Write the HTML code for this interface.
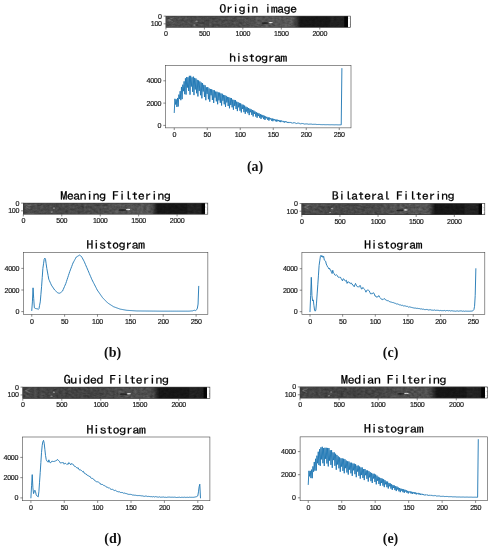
<!DOCTYPE html>
<html><head><meta charset="utf-8"><title>Filtering histograms</title>
<style>html,body{margin:0;padding:0;background:#fff}svg{display:block}.t{font-family:IPAGothic,"Liberation Mono",monospace;font-size:14.2px;letter-spacing:-.7px;fill:#000;text-anchor:middle;stroke:#000;stroke-width:.22px}.k{font-family:"Liberation Sans",sans-serif;font-size:7.1px;letter-spacing:-.3px;fill:#1c1c1c;stroke:#1c1c1c;stroke-width:.2px}.kx{text-anchor:middle}.ky{text-anchor:end}.c{font-family:"Liberation Serif",serif;font-weight:bold;font-size:14px;fill:#111;text-anchor:middle}.ax{fill:none;stroke:#484848;stroke-width:.6px}.tk{stroke:#3a3a3a;stroke-width:.6px}.ln{fill:none;stroke:#1f77b4;stroke-width:.92px;stroke-linejoin:round;stroke-linecap:round}</style></head><body>
<svg width="492" height="550" viewBox="0 0 492 550">
<defs><filter id="nz" x="0" y="0" width="100%" height="100%" color-interpolation-filters="sRGB"><feTurbulence type="fractalNoise" baseFrequency="0.32 0.45" numOctaves="2" seed="3" result="n"/><feColorMatrix in="n" type="matrix" values=".6 .4 0 0 0  .6 .4 0 0 0  .6 .4 0 0 0  0 0 0 0 1" result="g"/><feComposite in="SourceGraphic" in2="g" operator="arithmetic" k1="0.9" k2="0.55" k3="0" k4="0"/></filter></defs>
<g id="panel-a">
<text class="t" transform="translate(257.8 13) scale(1.006 0.825)">Origin image</text>
<defs><linearGradient id="sga" x1="0" x2="1" y1="0" y2="0"><stop offset="0" stop-color="#424242"/><stop offset="0.02" stop-color="#4e4e4e"/><stop offset="0.2" stop-color="#484848"/><stop offset="0.42" stop-color="#4a4a4a"/><stop offset="0.5" stop-color="#535353"/><stop offset="0.68" stop-color="#585858"/><stop offset="0.7" stop-color="#4a4a4a"/><stop offset="0.715" stop-color="#2a2a2a"/><stop offset="0.73" stop-color="#161616"/><stop offset="0.886" stop-color="#171717"/><stop offset="0.892" stop-color="#212121"/><stop offset="0.963" stop-color="#212121"/><stop offset="0.969" stop-color="#050505"/><stop offset="0.985" stop-color="#050505"/><stop offset="0.987" stop-color="#ffffff"/><stop offset="1" stop-color="#ffffff"/></linearGradient></defs>
<g filter="url(#nz)"><rect x="165.9" y="16.1" width="184.6" height="11.2" fill="url(#sga)"/>
<ellipse cx="265.123" cy="23.044" rx="3.6" ry="0.9" fill="#262626"/>
<ellipse cx="270.661" cy="22.596" rx="2.2" ry="0.7" fill="#d0d0d0"/>
<ellipse cx="196.667" cy="21.14" rx="1.2" ry="0.7" fill="#9a9a9a"/>
<ellipse cx="194.359" cy="25.06" rx="1.2" ry="0.7" fill="#8a8a8a"/>
<polyline points="173.4,17.7 168.4,19.7 172.9,21.7" fill="none" stroke="#7c7c7c" stroke-width=".6"/>
</g>
<rect class="ax" x="165.9" y="16.1" width="184.6" height="11.2"/>
<line class="tk" x1="165.94" x2="165.94" y1="27.3" y2="29.5"/>
<text class="k kx" x="165.94" y="36.2">0</text>
<line class="tk" x1="204.398" x2="204.398" y1="27.3" y2="29.5"/>
<text class="k kx" x="204.398" y="36.2">500</text>
<line class="tk" x1="242.857" x2="242.857" y1="27.3" y2="29.5"/>
<text class="k kx" x="242.857" y="36.2">1000</text>
<line class="tk" x1="281.315" x2="281.315" y1="27.3" y2="29.5"/>
<text class="k kx" x="281.315" y="36.2">1500</text>
<line class="tk" x1="319.773" x2="319.773" y1="27.3" y2="29.5"/>
<text class="k kx" x="319.773" y="36.2">2000</text>
<line class="tk" x1="163.7" x2="165.9" y1="16.14" y2="16.14"/>
<text class="k ky" x="161.7" y="18.69">0</text>
<line class="tk" x1="163.7" x2="165.9" y1="23.832" y2="23.832"/>
<text class="k ky" x="161.7" y="26.382">100</text>
<text class="t" transform="translate(257.85 62.1) scale(1.006 0.825)">histogram</text>
<rect class="ax" x="165.5" y="65.6" width="185.5" height="62.25"/>
<line class="tk" x1="174.25" x2="174.25" y1="127.85" y2="130.05"/>
<text class="k kx" x="174.25" y="137.15">0</text>
<line class="tk" x1="207.25" x2="207.25" y1="127.85" y2="130.05"/>
<text class="k kx" x="207.25" y="137.15">50</text>
<line class="tk" x1="240.25" x2="240.25" y1="127.85" y2="130.05"/>
<text class="k kx" x="240.25" y="137.15">100</text>
<line class="tk" x1="273.25" x2="273.25" y1="127.85" y2="130.05"/>
<text class="k kx" x="273.25" y="137.15">150</text>
<line class="tk" x1="306.25" x2="306.25" y1="127.85" y2="130.05"/>
<text class="k kx" x="306.25" y="137.15">200</text>
<line class="tk" x1="339.25" x2="339.25" y1="127.85" y2="130.05"/>
<text class="k kx" x="339.25" y="137.15">250</text>
<line class="tk" x1="163.3" x2="165.5" y1="125.4" y2="125.4"/>
<text class="k ky" x="161.1" y="127.95">0</text>
<line class="tk" x1="163.3" x2="165.5" y1="103.1" y2="103.1"/>
<text class="k ky" x="161.1" y="105.65">2000</text>
<line class="tk" x1="163.3" x2="165.5" y1="80.8" y2="80.8"/>
<text class="k ky" x="161.1" y="83.35">4000</text>
<path class="ln" d="M174.25 112.578L174.907 98.801L175.565 104.465L176.222 99.35L176.88 106.97L177.537 97.967L178.194 106.49L178.852 94.631L179.509 98.859L180.167 91.179L180.824 100.203L181.482 86.966L182.139 99.119L182.796 84.682L183.454 91.162L184.111 81.369L184.769 94.177L185.426 78.34L186.083 94.561L186.741 76.989L187.398 87.561L188.056 77.363L188.713 91L189.37 75.834L190.028 94.682L190.685 75.825L191.343 86.515L192 77.353L192.658 91.87L193.315 76.617L193.972 95.097L194.63 77.892L195.287 89.429L195.945 78.516L196.602 93.271L197.259 79.874L197.917 96.45L198.574 80.467L199.232 90.871L199.889 81.435L200.546 95.198L201.204 82.523L201.861 98.33L202.519 83.141L203.176 91.52L203.834 84.854L204.491 97.008L205.148 85.347L205.806 100.209L206.463 87.367L207.121 93.881L207.778 87.053L208.435 99.23L209.093 88.399L209.75 101.686L210.408 88.982L211.065 95.237L211.722 89.229L212.38 99.989L213.037 90.124L213.695 102.961L214.352 90.29L215.01 97.597L215.667 91.56L216.324 101.348L216.982 91.723L217.639 104.236L218.297 92.415L218.954 100.346L219.611 92.629L220.269 102.781L220.926 93.419L221.584 105.512L222.241 93.759L222.898 100.71L223.556 94.925L224.213 104.311L224.871 95.216L225.528 106.864L226.186 95.92L226.843 102.417L227.5 96.903L228.158 105.982L228.815 97.15L229.473 108.293L230.13 97.883L230.787 104.997L231.445 98.088L232.102 107.317L232.76 99.629L233.417 109.721L234.074 99.892L234.732 105.918L235.389 100.136L236.047 109.013L236.704 101.595L237.362 111.103L238.019 102.117L238.676 107.343L239.334 102.907L239.991 110.711L240.649 103.344L241.306 112.438L241.963 104.437L242.621 109.014L243.278 104.79L243.936 112.147L244.593 105.601L245.25 113.775L245.908 106.636L246.565 111.56L247.223 107.249L247.88 113.245L248.538 108.053L249.195 115.112L249.852 108.695L250.51 112.226L251.167 109.299L251.825 114.91L252.482 109.99L253.139 116.449L253.797 110.534L254.454 113.947L255.112 111.557L255.769 116.584L256.426 112.268L257.084 117.755L257.741 112.861L258.399 116.061L259.056 113.402L259.714 117.711L260.371 114.127L261.028 118.902L261.686 114.723L262.343 117.404L263.001 115.097L263.658 119.088L264.315 115.765L264.973 119.963L265.63 116.365L266.288 118.327L266.945 116.884L267.602 119.731L268.26 117.335L268.917 120.596L269.575 117.623L270.232 119.34L270.89 118.188L271.547 120.679L272.204 118.482L272.862 121.23L273.519 118.851L274.177 120.255L274.834 119.176L275.491 121.248L276.149 119.523L276.806 121.681L277.464 119.741L278.121 121.129L278.778 119.982L279.436 121.677L280.093 120.258L280.751 122.133L281.408 120.548L282.066 121.526L282.723 120.847L283.38 122.217L284.038 121.121L284.695 122.585L285.353 121.34L286.01 122.225L286.667 121.658L287.325 122.736L287.982 121.9L288.64 123.036L289.297 122.242L289.954 122.761L290.612 122.317L291.269 123.09L291.927 122.495L292.584 123.32L293.242 122.569L293.899 123.142L294.556 122.711L295.214 123.358L295.871 122.845L296.529 123.57L297.186 123.009L297.843 123.372L298.501 123.132L299.158 123.661L299.816 123.284L300.473 123.82L301.13 123.405L301.788 123.704L302.445 123.513L303.103 123.915L303.76 123.652L304.418 124.071L305.075 123.789L305.732 124.03L306.39 123.886L307.047 124.163L307.705 123.938L308.362 124.245L309.019 124.014L309.677 124.158L310.334 124.058L310.992 124.288L311.649 124.119L312.306 124.382L312.964 124.192L313.621 124.322L314.279 124.241L314.936 124.444L315.594 124.294L316.251 124.518L316.908 124.369L317.566 124.502L318.223 124.428L318.881 124.577L319.538 124.484L320.195 124.655L320.853 124.539L321.51 124.635L322.168 124.608L322.825 124.708L323.482 124.62L324.14 124.742L324.797 124.635L325.455 124.709L326.112 124.65L326.77 124.748L327.427 124.669L328.084 124.78L328.742 124.684L329.399 124.756L330.057 124.705L330.714 124.791L331.371 124.72L332.029 124.817L332.686 124.735L333.344 124.786L334.001 124.756L334.658 124.833L335.316 124.768L335.973 124.855L336.631 124.786L337.288 124.829L337.946 124.805L338.603 124.87L339.26 124.818L339.918 124.893L340.575 124.838L341.233 124.875L341.89 68.535"/>
<text class="c" x="255.05" y="170.8">(a)</text>
</g>
<g id="panel-b">
<text class="t" transform="translate(115.15 200) scale(1.012 0.83)">Meaning Filtering</text>
<defs><linearGradient id="sgb" x1="0" x2="1" y1="0" y2="0"><stop offset="0" stop-color="#414141"/><stop offset="0.02" stop-color="#4c4c4c"/><stop offset="0.2" stop-color="#474747"/><stop offset="0.42" stop-color="#494949"/><stop offset="0.5" stop-color="#515151"/><stop offset="0.68" stop-color="#565656"/><stop offset="0.7" stop-color="#494949"/><stop offset="0.715" stop-color="#2a2a2a"/><stop offset="0.73" stop-color="#161616"/><stop offset="0.886" stop-color="#171717"/><stop offset="0.892" stop-color="#212121"/><stop offset="0.963" stop-color="#212121"/><stop offset="0.969" stop-color="#050505"/><stop offset="0.985" stop-color="#050505"/><stop offset="0.987" stop-color="#ffffff"/><stop offset="1" stop-color="#ffffff"/></linearGradient></defs>
<g filter="url(#nz)"><rect x="23.3" y="203.1" width="184.5" height="11.1" fill="url(#sgb)"/>
<ellipse cx="122.469" cy="209.982" rx="3.6" ry="0.9" fill="#262626"/>
<ellipse cx="128.004" cy="209.538" rx="2.2" ry="0.7" fill="#d0d0d0"/>
<ellipse cx="54.05" cy="208.095" rx="1.2" ry="0.7" fill="#9a9a9a"/>
<ellipse cx="51.744" cy="211.98" rx="1.2" ry="0.7" fill="#8a8a8a"/>
<polyline points="30.8,204.7 25.8,206.7 30.3,208.7" fill="none" stroke="#7c7c7c" stroke-width=".6"/>
</g>
<rect class="ax" x="23.3" y="203.1" width="184.5" height="11.1"/>
<line class="tk" x1="23.34" x2="23.34" y1="214.2" y2="216.4"/>
<text class="k kx" x="23.34" y="223.1">0</text>
<line class="tk" x1="61.778" x2="61.778" y1="214.2" y2="216.4"/>
<text class="k kx" x="61.778" y="223.1">500</text>
<line class="tk" x1="100.215" x2="100.215" y1="214.2" y2="216.4"/>
<text class="k kx" x="100.215" y="223.1">1000</text>
<line class="tk" x1="138.653" x2="138.653" y1="214.2" y2="216.4"/>
<text class="k kx" x="138.653" y="223.1">1500</text>
<line class="tk" x1="177.09" x2="177.09" y1="214.2" y2="216.4"/>
<text class="k kx" x="177.09" y="223.1">2000</text>
<line class="tk" x1="21.1" x2="23.3" y1="203.14" y2="203.14"/>
<text class="k ky" x="19.1" y="205.69">0</text>
<line class="tk" x1="21.1" x2="23.3" y1="210.827" y2="210.827"/>
<text class="k ky" x="19.1" y="213.377">100</text>
<text class="t" transform="translate(115.275 248.9) scale(1.012 0.83)">Histogram</text>
<rect class="ax" x="23.5" y="252.4" width="184.35" height="62.1"/>
<line class="tk" x1="31.75" x2="31.75" y1="314.5" y2="316.7"/>
<text class="k kx" x="31.75" y="323.8">0</text>
<line class="tk" x1="64.62" x2="64.62" y1="314.5" y2="316.7"/>
<text class="k kx" x="64.62" y="323.8">50</text>
<line class="tk" x1="97.49" x2="97.49" y1="314.5" y2="316.7"/>
<text class="k kx" x="97.49" y="323.8">100</text>
<line class="tk" x1="130.36" x2="130.36" y1="314.5" y2="316.7"/>
<text class="k kx" x="130.36" y="323.8">150</text>
<line class="tk" x1="163.23" x2="163.23" y1="314.5" y2="316.7"/>
<text class="k kx" x="163.23" y="323.8">200</text>
<line class="tk" x1="196.1" x2="196.1" y1="314.5" y2="316.7"/>
<text class="k kx" x="196.1" y="323.8">250</text>
<line class="tk" x1="21.3" x2="23.5" y1="311.6" y2="311.6"/>
<text class="k ky" x="19.1" y="314.15">0</text>
<line class="tk" x1="21.3" x2="23.5" y1="290" y2="290"/>
<text class="k ky" x="19.1" y="292.55">2000</text>
<line class="tk" x1="21.3" x2="23.5" y1="268.4" y2="268.4"/>
<text class="k ky" x="19.1" y="270.95">4000</text>
<path class="ln" d="M31.75 310.52L32.405 301.88L33.06 287.84L33.714 298.64L34.369 307.82L35.024 308.198L35.679 308.576L36.334 308.684L36.989 308.792L37.643 308.9L38.298 309.44L38.953 308.792L39.608 305.336L40.263 301.88L40.918 294.32L41.572 286.76L42.227 277.58L42.882 268.4L43.537 263.81L44.192 259.22L44.846 258.14L45.501 259.22L46.156 263.81L46.811 268.4L47.466 272L48.121 275.6L48.775 279.2L49.43 280.685L50.085 282.17L50.74 283.655L51.395 285.14L52.049 286.112L52.704 287.084L53.359 288.056L54.014 289.028L54.669 290L55.324 290.605L55.978 291.21L56.633 291.814L57.288 292.419L57.943 293.024L58.598 293.096L59.253 293.168L59.907 293.24L60.562 292.7L61.217 292.16L61.872 291.62L62.527 291.08L63.181 289.568L63.836 288.056L64.491 286.544L65.146 285.032L65.801 283.52L66.456 281.54L67.11 279.56L67.765 277.58L68.42 275.6L69.075 273.62L69.73 271.64L70.384 269.912L71.039 268.184L71.694 266.456L72.349 264.728L73.004 263L73.659 261.812L74.313 260.624L74.968 259.436L75.623 258.248L76.278 257.06L76.933 256.671L77.588 256.282L78.242 255.894L78.897 255.505L79.552 255.116L80.207 255.584L80.862 256.052L81.516 256.52L82.171 257.735L82.826 258.95L83.481 260.165L84.136 261.38L84.791 262.91L85.445 264.44L86.1 265.97L86.755 267.5L87.41 269.03L88.065 270.56L88.72 272.09L89.374 273.62L90.029 275.15L90.684 276.68L91.339 278.21L91.994 279.74L92.648 281.023L93.303 282.305L93.958 283.588L94.613 284.87L95.268 286.153L95.923 287.435L96.577 288.718L97.232 290L97.887 290.945L98.542 291.89L99.197 292.835L99.851 293.78L100.506 294.725L101.161 295.67L101.816 296.615L102.471 297.56L103.126 298.235L103.78 298.91L104.435 299.585L105.09 300.26L105.745 300.935L106.4 301.61L107.055 302.285L107.709 302.96L108.364 303.38L109.019 303.8L109.674 304.22L110.329 304.64L110.983 305.06L111.638 305.48L112.293 305.9L112.948 306.32L113.603 306.74L114.258 306.978L114.912 307.215L115.567 307.453L116.222 307.69L116.877 307.928L117.532 308.166L118.186 308.403L118.841 308.641L119.496 308.878L120.151 309.116L120.806 309.235L121.461 309.354L122.115 309.472L122.77 309.591L123.425 309.71L124.08 309.829L124.735 309.948L125.39 310.066L126.044 310.185L126.699 310.304L127.354 310.347L128.009 310.39L128.664 310.434L129.318 310.477L129.973 310.52L130.628 310.563L131.283 310.606L131.938 310.65L132.593 310.693L133.247 310.736L133.902 310.779L134.557 310.822L135.212 310.866L135.867 310.909L136.522 310.952L137.176 310.957L137.831 310.963L138.486 310.968L139.141 310.974L139.796 310.979L140.45 310.984L141.105 310.99L141.76 310.995L142.415 311.001L143.07 311.006L143.725 311.011L144.379 311.017L145.034 311.022L145.689 311.028L146.344 311.033L146.999 311.038L147.653 311.044L148.308 311.049L148.963 311.055L149.618 311.06L150.273 311.065L150.928 311.071L151.582 311.076L152.237 311.082L152.892 311.087L153.547 311.092L154.202 311.098L154.857 311.103L155.511 311.109L156.166 311.114L156.821 311.119L157.476 311.125L158.131 311.13L158.785 311.136L159.44 311.141L160.095 311.146L160.75 311.152L161.405 311.157L162.06 311.163L162.714 311.168L163.369 311.168L164.024 311.168L164.679 311.168L165.334 311.168L165.989 311.168L166.643 311.168L167.298 311.168L167.953 311.168L168.608 311.168L169.263 311.168L169.917 311.168L170.572 311.168L171.227 311.168L171.882 311.168L172.537 311.168L173.192 311.168L173.846 311.168L174.501 311.168L175.156 311.168L175.811 311.168L176.466 311.168L177.12 311.168L177.775 311.168L178.43 311.168L179.085 311.168L179.74 311.168L180.395 311.168L181.049 311.168L181.704 311.168L182.359 311.168L183.014 311.168L183.669 311.168L184.324 311.168L184.978 311.168L185.633 311.168L186.288 311.168L186.943 311.168L187.598 311.168L188.252 311.168L188.907 311.168L189.562 311.114L190.217 311.06L190.872 311.006L191.527 310.952L192.181 310.898L192.836 310.844L193.491 310.52L194.146 310.196L194.801 310.412L195.455 310.628L196.11 310.142L196.765 309.656L197.42 308.036L198.075 304.04L198.73 286.328"/>
<text class="c" x="112.55" y="356.9">(b)</text>
</g>
<g id="panel-c">
<text class="t" transform="translate(392.875 200.4) scale(1.006 0.825)">Bilateral Filtering</text>
<defs><linearGradient id="sgc" x1="0" x2="1" y1="0" y2="0"><stop offset="0" stop-color="#414141"/><stop offset="0.02" stop-color="#4c4c4c"/><stop offset="0.2" stop-color="#474747"/><stop offset="0.42" stop-color="#494949"/><stop offset="0.5" stop-color="#515151"/><stop offset="0.68" stop-color="#565656"/><stop offset="0.7" stop-color="#494949"/><stop offset="0.715" stop-color="#2a2a2a"/><stop offset="0.73" stop-color="#161616"/><stop offset="0.886" stop-color="#171717"/><stop offset="0.892" stop-color="#212121"/><stop offset="0.963" stop-color="#212121"/><stop offset="0.969" stop-color="#050505"/><stop offset="0.985" stop-color="#050505"/><stop offset="0.987" stop-color="#ffffff"/><stop offset="1" stop-color="#ffffff"/></linearGradient></defs>
<g filter="url(#nz)"><rect x="301.75" y="203.5" width="183.05" height="11.2" fill="url(#sgc)"/>
<ellipse cx="400.139" cy="210.444" rx="3.6" ry="0.9" fill="#262626"/>
<ellipse cx="405.631" cy="209.996" rx="2.2" ry="0.7" fill="#d0d0d0"/>
<ellipse cx="332.258" cy="208.54" rx="1.2" ry="0.7" fill="#9a9a9a"/>
<ellipse cx="329.97" cy="212.46" rx="1.2" ry="0.7" fill="#8a8a8a"/>
<polyline points="309.25,205.1 304.25,207.1 308.75,209.1" fill="none" stroke="#7c7c7c" stroke-width=".6"/>
</g>
<rect class="ax" x="301.75" y="203.5" width="183.05" height="11.2"/>
<line class="tk" x1="301.79" x2="301.79" y1="214.7" y2="216.9"/>
<text class="k kx" x="301.79" y="223.6">0</text>
<line class="tk" x1="339.925" x2="339.925" y1="214.7" y2="216.9"/>
<text class="k kx" x="339.925" y="223.6">500</text>
<line class="tk" x1="378.061" x2="378.061" y1="214.7" y2="216.9"/>
<text class="k kx" x="378.061" y="223.6">1000</text>
<line class="tk" x1="416.196" x2="416.196" y1="214.7" y2="216.9"/>
<text class="k kx" x="416.196" y="223.6">1500</text>
<line class="tk" x1="454.332" x2="454.332" y1="214.7" y2="216.9"/>
<text class="k kx" x="454.332" y="223.6">2000</text>
<line class="tk" x1="299.55" x2="301.75" y1="203.54" y2="203.54"/>
<text class="k ky" x="297.55" y="206.09">0</text>
<line class="tk" x1="299.55" x2="301.75" y1="211.167" y2="211.167"/>
<text class="k ky" x="297.55" y="213.717">100</text>
<text class="t" transform="translate(392.95 248.9) scale(1.006 0.825)">Histogram</text>
<rect class="ax" x="301.9" y="252.4" width="182.9" height="62.1"/>
<line class="tk" x1="310" x2="310" y1="314.5" y2="316.7"/>
<text class="k kx" x="310" y="323.8">0</text>
<line class="tk" x1="342.65" x2="342.65" y1="314.5" y2="316.7"/>
<text class="k kx" x="342.65" y="323.8">50</text>
<line class="tk" x1="375.3" x2="375.3" y1="314.5" y2="316.7"/>
<text class="k kx" x="375.3" y="323.8">100</text>
<line class="tk" x1="407.95" x2="407.95" y1="314.5" y2="316.7"/>
<text class="k kx" x="407.95" y="323.8">150</text>
<line class="tk" x1="440.6" x2="440.6" y1="314.5" y2="316.7"/>
<text class="k kx" x="440.6" y="323.8">200</text>
<line class="tk" x1="473.25" x2="473.25" y1="314.5" y2="316.7"/>
<text class="k kx" x="473.25" y="323.8">250</text>
<line class="tk" x1="299.7" x2="301.9" y1="311.7" y2="311.7"/>
<text class="k ky" x="297.5" y="314.25">0</text>
<line class="tk" x1="299.7" x2="301.9" y1="290.2" y2="290.2"/>
<text class="k ky" x="297.5" y="292.75">2000</text>
<line class="tk" x1="299.7" x2="301.9" y1="268.7" y2="268.7"/>
<text class="k ky" x="297.5" y="271.25">4000</text>
<path class="ln" d="M310 311.7L310.65 295.575L311.301 277.3L311.951 295.575L312.602 300.95L313.252 299.875L313.903 305.25L314.553 310.087L315.204 311.162L315.854 310.087L316.504 303.1L317.155 293.962L317.805 284.825L318.456 275.15L319.106 265.475L319.757 260.906L320.407 256.337L321.057 255.262L321.708 256.875L322.358 255.8L323.009 257.412L323.659 256.337L324.31 260.1L324.96 260.637L325.611 261.175L326.261 264.008L326.911 265.364L327.562 266.87L328.212 267.374L328.863 268.943L329.513 268.147L330.164 270.114L330.814 270.085L331.464 272.459L332.115 273.577L332.765 270.275L333.416 272.796L334.066 273.361L334.717 274.931L335.367 275.402L336.018 274.817L336.668 274.87L337.318 275.479L337.969 276.985L338.619 277.366L339.27 276.961L339.92 277.635L340.571 277.333L341.221 278.739L341.872 279.824L342.522 280.858L343.172 278.762L343.823 278.964L344.473 279.853L345.124 280.924L345.774 280.947L346.425 280.301L347.075 283.392L347.725 281.989L348.376 281.913L349.026 282.028L349.677 283.111L350.327 283.638L350.978 282.778L351.628 283.962L352.279 284.062L352.929 285.466L353.579 285.699L354.23 286.749L354.88 284.813L355.531 283.408L356.181 285.069L356.832 286.304L357.482 286.665L358.133 286.534L358.783 287.236L359.433 286.039L360.084 285.333L360.734 286.767L361.385 288.877L362.035 289.083L362.686 287.511L363.336 287.904L363.986 288.54L364.637 289.564L365.287 290.444L365.938 292.195L366.588 290.555L367.239 290.097L367.889 290.234L368.54 290.283L369.19 290.797L369.84 292.262L370.491 293.764L371.141 293.23L371.792 294.072L372.442 293.598L373.093 292.618L373.743 293.088L374.393 294.051L375.044 296.102L375.694 295.983L376.345 297.154L376.995 296.951L377.646 297.015L378.296 296.046L378.947 295.569L379.597 297.182L380.247 297.747L380.898 298.726L381.548 299.227L382.199 298.969L382.849 299.8L383.5 299.212L384.15 298.572L384.801 298.85L385.451 299.782L386.101 300.368L386.752 300.068L387.402 300.854L388.053 300.531L388.703 300.861L389.354 301.596L390.004 301.773L390.654 301.972L391.305 302.117L391.955 302.338L392.606 302.549L393.256 302.678L393.907 302.615L394.557 303.171L395.208 303.432L395.858 303.401L396.508 303.982L397.159 304.13L397.809 303.808L398.46 304.331L399.11 304.483L399.761 305.055L400.411 304.926L401.061 304.977L401.712 305.554L402.362 305.296L403.013 305.458L403.663 306.03L404.314 305.807L404.964 306.054L405.615 306.046L406.265 306.403L406.915 306.302L407.566 306.419L408.216 307.025L408.867 307.133L409.517 306.871L410.168 306.826L410.818 307.413L411.469 307.42L412.119 307.472L412.769 307.775L413.42 307.884L414.07 308.05L414.721 308.104L415.371 308.058L416.022 308.321L416.672 308.364L417.322 308.223L417.973 308.742L418.623 308.519L419.274 308.514L419.924 308.843L420.575 308.98L421.225 308.744L421.876 309.146L422.526 309.262L423.176 309.214L423.827 309.161L424.477 309.57L425.128 309.54L425.778 309.622L426.429 309.448L427.079 309.743L427.729 309.568L428.38 309.962L429.03 309.916L429.681 309.796L430.331 309.716L430.982 309.978L431.632 310.133L432.283 310.225L432.933 310.059L433.583 310.269L434.234 310.001L434.884 310.027L435.535 310.392L436.185 310.385L436.836 310.165L437.486 310.287L438.137 310.247L438.787 310.512L439.437 310.657L440.088 310.618L440.738 310.397L441.389 310.671L442.039 310.656L442.69 310.643L443.34 310.663L443.99 310.69L444.641 310.468L445.291 310.853L445.942 310.946L446.592 310.523L447.243 310.574L447.893 310.546L448.544 310.828L449.194 310.607L449.844 310.64L450.495 310.991L451.145 310.768L451.796 310.748L452.446 310.85L453.097 310.939L453.747 311.067L454.398 311.064L455.048 311.138L455.698 311.232L456.349 311.014L456.999 311.161L457.65 310.929L458.3 311.288L458.951 310.903L459.601 311.007L460.251 310.91L460.902 310.93L461.552 310.937L462.203 311.092L462.853 311.357L463.504 311.032L464.154 311.301L464.805 311.251L465.455 311.094L466.105 311.176L466.756 311.184L467.406 311.192L468.057 311.2L468.707 311.208L469.358 311.216L470.008 311.184L470.658 311.152L471.309 311.12L471.959 311.087L472.61 311.055L473.26 310.303L473.911 309.55L474.561 306.325L475.212 295.575L475.862 268.7"/>
<text class="c" x="390.6" y="356.9">(c)</text>
</g>
<g id="panel-d">
<text class="t" transform="translate(115.925 384) scale(1.026 0.841)">Guided Filtering</text>
<defs><linearGradient id="sgd" x1="0" x2="1" y1="0" y2="0"><stop offset="0" stop-color="#3b3b3b"/><stop offset="0.02" stop-color="#464646"/><stop offset="0.2" stop-color="#414141"/><stop offset="0.42" stop-color="#434343"/><stop offset="0.5" stop-color="#4b4b4b"/><stop offset="0.68" stop-color="#4f4f4f"/><stop offset="0.7" stop-color="#434343"/><stop offset="0.715" stop-color="#2a2a2a"/><stop offset="0.73" stop-color="#161616"/><stop offset="0.886" stop-color="#171717"/><stop offset="0.892" stop-color="#212121"/><stop offset="0.963" stop-color="#212121"/><stop offset="0.969" stop-color="#050505"/><stop offset="0.985" stop-color="#050505"/><stop offset="0.987" stop-color="#ffffff"/><stop offset="1" stop-color="#ffffff"/></linearGradient></defs>
<g filter="url(#nz)"><rect x="22.75" y="387.1" width="187.15" height="11.4" fill="url(#sgd)"/>
<ellipse cx="123.343" cy="394.168" rx="3.6" ry="0.9" fill="#262626"/>
<ellipse cx="128.958" cy="393.712" rx="2.2" ry="0.7" fill="#d0d0d0"/>
<ellipse cx="53.942" cy="392.23" rx="1.2" ry="0.7" fill="#9a9a9a"/>
<ellipse cx="51.602" cy="396.22" rx="1.2" ry="0.7" fill="#8a8a8a"/>
<polyline points="30.25,388.7 25.25,390.7 29.75,392.7" fill="none" stroke="#7c7c7c" stroke-width=".6"/>
</g>
<rect class="ax" x="22.75" y="387.1" width="187.15" height="11.4"/>
<line class="tk" x1="22.79" x2="22.79" y1="398.5" y2="400.7"/>
<text class="k kx" x="22.79" y="407.4">0</text>
<line class="tk" x1="61.78" x2="61.78" y1="398.5" y2="400.7"/>
<text class="k kx" x="61.78" y="407.4">500</text>
<line class="tk" x1="100.769" x2="100.769" y1="398.5" y2="400.7"/>
<text class="k kx" x="100.769" y="407.4">1000</text>
<line class="tk" x1="139.759" x2="139.759" y1="398.5" y2="400.7"/>
<text class="k kx" x="139.759" y="407.4">1500</text>
<line class="tk" x1="178.748" x2="178.748" y1="398.5" y2="400.7"/>
<text class="k kx" x="178.748" y="407.4">2000</text>
<line class="tk" x1="20.55" x2="22.75" y1="387.14" y2="387.14"/>
<text class="k ky" x="18.55" y="389.69">0</text>
<line class="tk" x1="20.55" x2="22.75" y1="394.938" y2="394.938"/>
<text class="k ky" x="18.55" y="397.488">100</text>
<text class="t" transform="translate(115.8 433.5) scale(1.026 0.841)">Histogram</text>
<rect class="ax" x="22.5" y="437" width="187.4" height="63.7"/>
<line class="tk" x1="30.9" x2="30.9" y1="500.7" y2="502.9"/>
<text class="k kx" x="30.9" y="510">0</text>
<line class="tk" x1="64.28" x2="64.28" y1="500.7" y2="502.9"/>
<text class="k kx" x="64.28" y="510">50</text>
<line class="tk" x1="97.66" x2="97.66" y1="500.7" y2="502.9"/>
<text class="k kx" x="97.66" y="510">100</text>
<line class="tk" x1="131.04" x2="131.04" y1="500.7" y2="502.9"/>
<text class="k kx" x="131.04" y="510">150</text>
<line class="tk" x1="164.42" x2="164.42" y1="500.7" y2="502.9"/>
<text class="k kx" x="164.42" y="510">200</text>
<line class="tk" x1="197.8" x2="197.8" y1="500.7" y2="502.9"/>
<text class="k kx" x="197.8" y="510">250</text>
<line class="tk" x1="20.3" x2="22.5" y1="497.9" y2="497.9"/>
<text class="k ky" x="18.1" y="500.45">0</text>
<line class="tk" x1="20.3" x2="22.5" y1="477.65" y2="477.65"/>
<text class="k ky" x="18.1" y="480.2">2000</text>
<line class="tk" x1="20.3" x2="22.5" y1="457.4" y2="457.4"/>
<text class="k ky" x="18.1" y="459.95">4000</text>
<path class="ln" d="M30.9 497.9L31.565 485.75L32.23 474.612L32.895 487.775L33.56 493.647L34.225 491.825L34.89 490.205L35.555 491.825L36.22 494.862L36.885 495.875L37.55 496.381L38.215 496.887L38.88 491.825L39.545 482.206L40.21 472.587L40.875 462.462L41.54 452.337L42.205 445.25L42.87 441.706L43.535 440.39L44.2 443.225L44.865 449.3L45.53 455.375L46.195 459.425L46.86 460.944L47.525 461.691L48.19 462.189L48.855 459.829L49.519 462.093L50.184 462.755L50.849 462.642L51.514 461.426L52.179 461.368L52.844 461.161L53.509 461.935L54.174 461.111L54.839 461.364L55.504 460.911L56.169 460.39L56.834 460.481L57.499 459.418L58.164 460.188L58.829 460.81L59.494 461.403L60.159 462.855L60.824 462.977L61.489 462.74L62.154 462.679L62.819 462.586L63.484 462.669L64.149 464.211L64.814 463.388L65.479 463.373L66.144 463.768L66.809 464.449L67.474 464.028L68.139 464.356L68.804 462.495L69.469 463.029L70.134 463.999L70.799 464.835L71.464 463.57L72.129 463.955L72.794 464.062L73.459 464.771L74.124 465.992L74.789 466.494L75.454 466.531L76.119 467.152L76.784 467.934L77.449 468.042L78.114 467.695L78.779 469.378L79.444 469.831L80.109 469.396L80.774 470.39L81.439 470.511L82.104 471.111L82.769 471.804L83.434 471.366L84.099 473.019L84.764 473.216L85.429 474.009L86.094 473.926L86.758 474.911L87.423 475.309L88.088 475.305L88.753 476.276L89.418 476.395L90.083 476.387L90.748 477.803L91.413 478.266L92.078 478.48L92.743 478.351L93.408 479.036L94.073 479.973L94.738 480.369L95.403 481.04L96.068 481.238L96.733 482.068L97.398 481.769L98.063 481.959L98.728 482.296L99.393 482.913L100.058 483.087L100.723 484.392L101.388 484.461L102.053 484.156L102.718 484.671L103.383 485.34L104.048 485.193L104.713 485.817L105.378 485.979L106.043 486.75L106.708 487.15L107.373 487.252L108.038 487.82L108.703 487.934L109.368 487.788L110.033 488.603L110.698 489.165L111.363 489.386L112.028 489.541L112.693 489.337L113.358 489.9L114.023 490.204L114.688 490.592L115.353 490.223L116.018 490.865L116.683 491.214L117.348 491.514L118.013 491.715L118.678 491.84L119.343 491.71L120.008 492.252L120.673 492.52L121.338 492.438L122.003 492.789L122.668 492.535L123.332 493.208L123.997 493.107L124.662 493.106L125.327 493.464L125.992 493.272L126.657 493.711L127.322 493.988L127.987 494.035L128.652 494.386L129.317 494.315L129.982 494.552L130.647 494.349L131.312 494.469L131.977 494.735L132.642 495.069L133.307 495.039L133.972 495.132L134.637 495.236L135.302 495.311L135.967 495.072L136.632 495.53L137.297 495.662L137.962 495.31L138.627 495.579L139.292 495.458L139.957 495.835L140.622 495.68L141.287 495.855L141.952 495.843L142.617 495.92L143.282 496.094L143.947 496.338L144.612 496.336L145.277 496.077L145.942 496.12L146.607 496.163L147.272 496.491L147.937 496.396L148.602 496.385L149.267 496.512L149.932 496.488L150.597 496.672L151.262 496.64L151.927 496.652L152.592 496.865L153.257 496.596L153.922 496.607L154.587 497.027L155.252 496.652L155.917 496.682L156.582 496.838L157.247 497.14L157.912 496.787L158.577 497.153L159.242 496.808L159.907 496.966L160.571 497.257L161.236 497.236L161.901 497.056L162.566 497.11L163.231 497.059L163.896 497.006L164.561 497.319L165.226 497.418L165.891 497.027L166.556 497.426L167.221 497.059L167.886 497.394L168.551 497.1L169.216 497.118L169.881 497.083L170.546 497.23L171.211 497.095L171.876 497.393L172.541 497.196L173.206 497.349L173.871 497.114L174.536 497.171L175.201 497.307L175.866 497.289L176.531 497.51L177.196 497.512L177.861 497.278L178.526 497.33L179.191 497.175L179.856 497.291L180.521 497.497L181.186 497.399L181.851 497.224L182.516 497.326L183.181 497.542L183.846 497.186L184.511 497.188L185.176 497.503L185.841 497.304L186.506 497.371L187.171 497.195L187.836 497.396L188.501 497.427L189.166 497.316L189.831 497.108L190.496 497.305L191.161 497.303L191.826 497.3L192.491 497.298L193.156 497.295L193.821 497.292L194.486 497.141L195.151 496.989L195.816 496.837L196.481 496.685L197.145 496.28L197.81 495.875L198.475 491.825L199.14 486.762L199.805 484.231L200.47 497.9"/>
<text class="c" x="112.9" y="543.4">(d)</text>
</g>
<g id="panel-e">
<text class="t" transform="translate(393.35 383.8) scale(1.028 0.843)">Median Filtering</text>
<defs><linearGradient id="sge" x1="0" x2="1" y1="0" y2="0"><stop offset="0" stop-color="#3b3b3b"/><stop offset="0.02" stop-color="#464646"/><stop offset="0.2" stop-color="#414141"/><stop offset="0.42" stop-color="#434343"/><stop offset="0.5" stop-color="#4b4b4b"/><stop offset="0.68" stop-color="#4f4f4f"/><stop offset="0.7" stop-color="#434343"/><stop offset="0.715" stop-color="#2a2a2a"/><stop offset="0.73" stop-color="#161616"/><stop offset="0.886" stop-color="#171717"/><stop offset="0.892" stop-color="#212121"/><stop offset="0.963" stop-color="#212121"/><stop offset="0.969" stop-color="#050505"/><stop offset="0.985" stop-color="#050505"/><stop offset="0.987" stop-color="#ffffff"/><stop offset="1" stop-color="#ffffff"/></linearGradient></defs>
<g filter="url(#nz)"><rect x="300" y="386.9" width="187.5" height="11.2" fill="url(#sge)"/>
<ellipse cx="400.781" cy="393.844" rx="3.6" ry="0.9" fill="#262626"/>
<ellipse cx="406.406" cy="393.396" rx="2.2" ry="0.7" fill="#d0d0d0"/>
<ellipse cx="331.25" cy="391.94" rx="1.2" ry="0.7" fill="#9a9a9a"/>
<ellipse cx="328.906" cy="395.86" rx="1.2" ry="0.7" fill="#8a8a8a"/>
<polyline points="307.5,388.5 302.5,390.5 307,392.5" fill="none" stroke="#7c7c7c" stroke-width=".6"/>
</g>
<rect class="ax" x="300" y="386.9" width="187.5" height="11.2"/>
<line class="tk" x1="300.04" x2="300.04" y1="398.1" y2="400.3"/>
<text class="k kx" x="300.04" y="407">0</text>
<line class="tk" x1="339.103" x2="339.103" y1="398.1" y2="400.3"/>
<text class="k kx" x="339.103" y="407">500</text>
<line class="tk" x1="378.165" x2="378.165" y1="398.1" y2="400.3"/>
<text class="k kx" x="378.165" y="407">1000</text>
<line class="tk" x1="417.228" x2="417.228" y1="398.1" y2="400.3"/>
<text class="k kx" x="417.228" y="407">1500</text>
<line class="tk" x1="456.29" x2="456.29" y1="398.1" y2="400.3"/>
<text class="k kx" x="456.29" y="407">2000</text>
<line class="tk" x1="297.8" x2="300" y1="386.94" y2="386.94"/>
<text class="k ky" x="295.8" y="389.49">0</text>
<line class="tk" x1="297.8" x2="300" y1="394.752" y2="394.752"/>
<text class="k ky" x="295.8" y="397.303">100</text>
<text class="t" transform="translate(393.4 433.35) scale(1.028 0.843)">Histogram</text>
<rect class="ax" x="300.1" y="436.85" width="187.4" height="63.85"/>
<line class="tk" x1="308.25" x2="308.25" y1="500.7" y2="502.9"/>
<text class="k kx" x="308.25" y="510">0</text>
<line class="tk" x1="341.72" x2="341.72" y1="500.7" y2="502.9"/>
<text class="k kx" x="341.72" y="510">50</text>
<line class="tk" x1="375.19" x2="375.19" y1="500.7" y2="502.9"/>
<text class="k kx" x="375.19" y="510">100</text>
<line class="tk" x1="408.66" x2="408.66" y1="500.7" y2="502.9"/>
<text class="k kx" x="408.66" y="510">150</text>
<line class="tk" x1="442.13" x2="442.13" y1="500.7" y2="502.9"/>
<text class="k kx" x="442.13" y="510">200</text>
<line class="tk" x1="475.6" x2="475.6" y1="500.7" y2="502.9"/>
<text class="k kx" x="475.6" y="510">250</text>
<line class="tk" x1="297.9" x2="300.1" y1="497.8" y2="497.8"/>
<text class="k ky" x="295.7" y="500.35">0</text>
<line class="tk" x1="297.9" x2="300.1" y1="474.7" y2="474.7"/>
<text class="k ky" x="295.7" y="477.25">2000</text>
<line class="tk" x1="297.9" x2="300.1" y1="451.6" y2="451.6"/>
<text class="k ky" x="295.7" y="454.15">4000</text>
<path class="ln" d="M308.25 484.517L308.917 470.853L309.584 476.334L310.25 470.845L310.917 478.1L311.584 469.609L312.251 478.211L312.917 466.419L313.584 471.745L314.251 461.969L314.918 470.668L315.585 458.758L316.251 470.577L316.918 455.71L317.585 463.256L318.252 451.74L318.918 465.061L319.585 449.212L320.252 465.855L320.919 447.397L321.585 459.351L322.252 446.778L322.919 463.243L323.586 447.99L324.253 465.98L324.919 447.729L325.586 458.843L326.253 447.784L326.92 463.487L327.586 447.952L328.253 466.41L328.92 448.098L329.587 460.628L330.254 450.279L330.92 464.881L331.587 450.203L332.254 467.812L332.921 452.398L333.587 460.096L334.254 452.363L334.921 465.775L335.588 453.749L336.255 469.758L336.921 454.96L337.588 464.485L338.255 456.334L338.922 468.323L339.588 457.369L340.255 471.705L340.922 458.272L341.589 466.615L342.256 458.389L342.922 470.906L343.589 458.735L344.256 473.235L344.923 459.259L345.589 468.149L346.256 460.557L346.923 472.501L347.59 461.268L348.256 474.556L348.923 461.472L349.59 469.669L350.257 462.67L350.924 473.32L351.59 462.691L352.257 475.877L352.924 463.507L353.591 470.298L354.257 463.64L354.924 474.167L355.591 464.229L356.258 477.198L356.925 465.667L357.591 471.569L358.258 465.48L358.925 475.831L359.592 466.523L360.258 478.599L360.925 467.412L361.592 475.05L362.259 467.511L362.926 478.04L363.592 469.119L364.259 480.079L364.926 468.997L365.593 475.194L366.259 470.398L366.926 478.83L367.593 470.472L368.26 481.559L368.927 471.144L369.593 477.366L370.26 472.21L370.927 481.198L371.594 472.923L372.26 482.99L372.927 473.706L373.594 478.524L374.261 473.775L374.927 481.966L375.594 474.593L376.261 484.373L376.928 475.581L377.595 480.772L378.261 476.816L378.928 484.017L379.595 477.579L380.262 485.758L380.928 478.059L381.595 483.02L382.262 478.667L382.929 485.656L383.596 479.281L384.262 487.143L384.929 480.11L385.596 484.306L386.263 481.419L386.929 487.177L387.596 481.613L388.263 488.528L388.93 482.927L389.597 486.308L390.263 483.372L390.93 488.649L391.597 484.242L392.264 489.881L392.93 484.978L393.597 488.032L394.264 485.407L394.931 490.055L395.598 486.253L396.264 491.069L396.931 486.495L397.598 489.488L398.265 487.454L398.931 491.3L399.598 488.03L400.265 492.168L400.932 488.571L401.598 490.633L402.265 488.975L402.932 492.15L403.599 489.326L404.266 492.824L404.932 489.714L405.599 491.521L406.266 490.229L406.933 492.816L407.599 490.872L408.266 493.48L408.933 491.205L409.6 492.374L410.267 491.397L410.933 493.42L411.6 491.734L412.267 493.948L412.934 491.964L413.6 493.294L414.267 492.231L414.934 494.009L415.601 492.509L416.268 494.416L416.934 492.886L417.601 493.713L418.268 493.109L418.935 494.478L419.601 493.35L420.268 494.884L420.935 493.602L421.602 494.538L422.269 493.963L422.935 494.97L423.602 494.2L424.269 495.351L424.936 494.519L425.602 495.021L426.269 494.646L426.936 495.402L427.603 494.786L428.269 495.645L428.936 494.893L429.603 495.365L430.27 495.024L430.937 495.701L431.603 495.192L432.27 495.905L432.937 495.323L433.604 495.743L434.27 495.472L434.937 495.976L435.604 495.588L436.271 496.164L436.938 495.698L437.604 496.041L438.271 495.847L438.938 496.261L439.605 495.992L440.271 496.423L440.938 496.139L441.605 496.362L442.272 496.237L442.939 496.511L443.605 496.295L444.272 496.604L444.939 496.359L445.606 496.516L446.272 496.411L446.939 496.648L447.606 496.485L448.273 496.745L448.94 496.543L449.606 496.674L450.273 496.61L450.94 496.805L451.607 496.664L452.273 496.887L452.94 496.72L453.607 496.844L454.274 496.795L454.94 496.954L455.607 496.853L456.274 497.028L456.941 496.915L457.608 497.011L458.274 496.97L458.941 497.082L459.608 496.992L460.275 497.118L460.941 497.011L461.608 497.082L462.275 497.027L462.942 497.123L463.609 497.045L464.275 497.158L464.942 497.063L465.609 497.134L466.276 497.075L466.942 497.168L467.609 497.097L468.276 497.197L468.943 497.11L469.61 497.167L470.276 497.131L470.943 497.212L471.61 497.147L472.277 497.236L472.943 497.163L473.61 497.221L474.277 497.18L474.944 497.251L475.611 497.197L476.277 497.275L476.944 497.215L477.611 497.265L478.278 439.588"/>
<text class="c" x="390.5" y="543.4">(e)</text>
</g>
</svg></body></html>
